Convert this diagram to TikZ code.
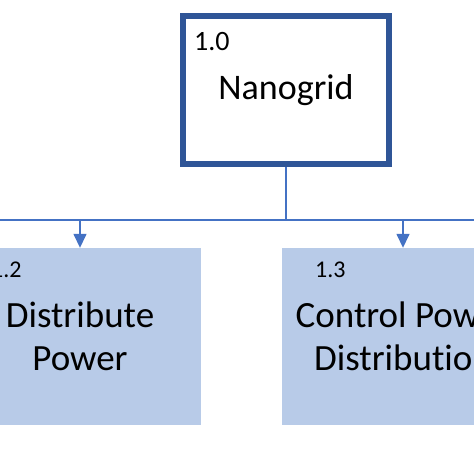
\documentclass[tikz,border=0pt]{standalone}
\usepackage{fontspec}
\setmainfont{Carlito}[Ligatures=NoCommon]
\usetikzlibrary{arrows.meta, positioning}

\definecolor{nodeblue}{HTML}{2F5597}
\definecolor{linkblue}{HTML}{4472C4}
\definecolor{boxfill}{HTML}{B8CBE8}

\tikzset{
    rootbox/.style={draw=nodeblue, line width=5.5pt, fill=white, minimum width=206pt, minimum height=148pt, font=\fontsize{36}{43}\selectfont, align=center},
    taskbox/.style={fill=boxfill, minimum width=242pt, minimum height=177pt, font=\fontsize{37}{43}\selectfont, align=center},
    numtag/.style={anchor=base west, inner sep=0pt, font=\fontsize{24}{27}\selectfont},
    link/.style={draw=linkblue, line width=1.5pt},
    linkarrow/.style={link, -{Triangle[width=13pt,length=14pt]}}
}

\begin{document}
\begin{tikzpicture}[x=1pt, y=-1pt]
                \useasboundingbox (0,0) rectangle (474,474);
                \clip (0,0) rectangle (474,474);
                \node[rootbox] (nanogrid) at (286,90) {Nanogrid};
                \node[numtag, font=\fontsize{28}{32}\selectfont] (tagroot) at (194,50) {1.0};
                \node[taskbox] (distribute) at (80,336.5) {Distribute\\Power};
                \node[numtag] (tagdist) at (-9,277) {1.2};
                \node[taskbox] (control) at (403,336.5) {Control Power\\Distribution};
                \node[numtag] (tagctrl) at (315,277) {1.3};
                \coordinate (busleft) at (-60,220);
                \coordinate (busright) at (540,220);
                \draw[link] (nanogrid.south) -- (nanogrid.south |- busleft);
                \draw[link] (busleft) -- (busright);
                \draw[linkarrow] (distribute.north |- busleft) -- (distribute.north);
                \draw[linkarrow] (control.north |- busleft) -- (control.north);
            \end{tikzpicture}
\end{document}
